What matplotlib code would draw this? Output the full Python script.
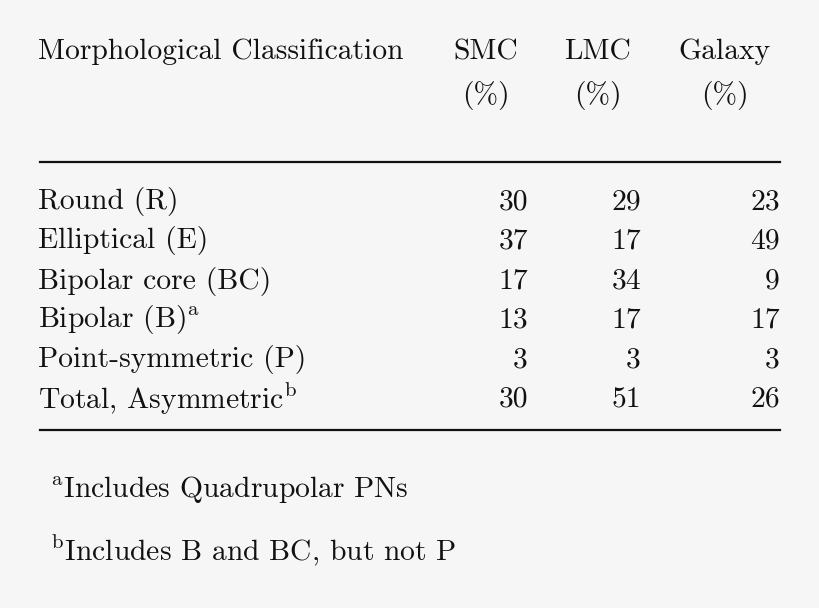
import matplotlib
matplotlib.use("Agg")
import matplotlib.pyplot as plt
from matplotlib.lines import Line2D

plt.rcParams['mathtext.fontset'] = 'cm'

headers = ["SMC", "LMC", "Galaxy"]
categories = ["Round (R)", "Elliptical (E)", "Bipolar core (BC)",
              r"Bipolar (B)$^{\rm a}$", "Point-symmetric (P)", r"Total, Asymmetric$^{\rm b}$"]
smc = [30, 37, 17, 13, 3, 30]
lmc = [29, 17, 34, 17, 3, 51]
galaxy = [23, 49, 9, 17, 3, 26]
footnotes = [r"$^{\rm a}$Includes Quadrupolar PNs", r"$^{\rm b}$Includes B and BC, but not P"]

W, H = 820, 608
fig = plt.figure(figsize=(W/100, H/100), dpi=100, facecolor="#f6f6f6")
fs = 21.3
kw = dict(family="cmr10", fontsize=fs, color="#111111", va="center")

def T(x, y, s, ha="left"):
    fig.text(x/W, 1 - y/H, s, ha=ha, **kw)

T(38, 52, "Morphological Classification")
for x, h in zip([486, 598, 725], headers):
    T(x, 52, h, ha="center")
    T(x, 95, "(%)", ha="center")

fig.add_artist(Line2D([40/W, 780/W], [1-162/H]*2, color="#111111", lw=1.6))
fig.add_artist(Line2D([40/W, 780/W], [1-430/H]*2, color="#111111", lw=1.6))

ys = [202, 241, 281, 320, 360, 399]
for y, c, a, b, g in zip(ys, categories, smc, lmc, galaxy):
    T(38, y, c)
    T(528, y, str(a), ha="right")
    T(641, y, str(b), ha="right")
    T(780, y, str(g), ha="right")

T(50, 490, footnotes[0])
T(50, 550, footnotes[1])

fig.savefig("out.png", dpi=100, facecolor=fig.get_facecolor())
